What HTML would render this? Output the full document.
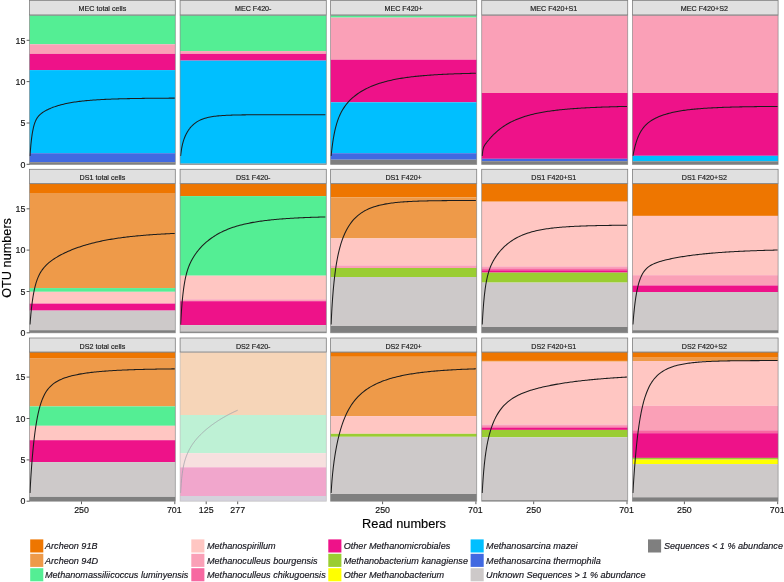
<!DOCTYPE html>
<html><head><meta charset="utf-8"><title>OTU rarefaction</title>
<style>html,body{margin:0;padding:0;background:#fff}svg{display:block}</style></head>
<body>
<svg width="784" height="582" viewBox="0 0 784 582" font-family="'Liberation Sans', sans-serif">
<style>text{stroke:#222;stroke-width:0.18px;paint-order:stroke fill}</style>
<rect width="784" height="582" fill="#fff"/>
<g>
<rect x="29.5" y="15.3" width="145.8" height="29.0" fill="#54EE94"/>
<rect x="29.5" y="44.3" width="145.8" height="9.6" fill="#FAA0B7"/>
<rect x="29.5" y="53.9" width="145.8" height="16.2" fill="#EE1289"/>
<rect x="29.5" y="70.1" width="145.8" height="83.1" fill="#00BFFF"/>
<rect x="29.5" y="153.2" width="145.8" height="9.0" fill="#4169E1"/>
<rect x="29.5" y="162.2" width="145.8" height="2.2" fill="#7F7F7F"/>
<path d="M30.01,156.03 L30.21,152.99 L30.42,150.23 L30.63,147.71 L30.83,145.40 L31.04,143.28 L31.25,141.32 L31.45,139.52 L31.66,137.84 L31.87,136.29 L32.07,134.86 L32.28,133.52 L32.49,132.28 L32.70,131.12 L32.90,130.04 L33.11,129.03 L33.32,128.09 L33.52,127.21 L33.73,126.38 L33.94,125.61 L34.14,124.89 L34.35,124.21 L34.56,123.57 L34.76,122.97 L34.97,122.40 L35.18,121.86 L35.38,121.36 L35.59,120.88 L35.80,120.43 L36.00,120.00 L36.21,119.59 L36.42,119.21 L36.62,118.84 L36.83,118.49 L37.04,118.15 L37.24,117.83 L37.45,117.53 L37.66,117.24 L37.87,116.96 L38.07,116.69 L38.28,116.43 L38.49,116.18 L38.69,115.94 L38.90,115.71 L39.11,115.48 L39.31,115.27 L39.52,115.06 L39.73,114.85 L39.93,114.66 L40.14,114.47 L40.35,114.28 L40.55,114.10 L40.76,113.92 L40.97,113.75 L41.17,113.58 L41.38,113.42 L41.59,113.26 L41.79,113.10 L42.00,112.95 L42.21,112.80 L43.55,111.89 L44.89,111.08 L46.22,110.34 L47.56,109.66 L48.90,109.02 L50.24,108.43 L51.58,107.88 L52.92,107.36 L54.26,106.87 L55.60,106.41 L56.94,105.97 L58.28,105.56 L59.61,105.18 L60.95,104.81 L62.29,104.47 L63.63,104.14 L64.97,103.83 L66.31,103.54 L67.65,103.27 L68.99,103.01 L70.33,102.76 L71.67,102.53 L73.00,102.31 L74.34,102.10 L75.68,101.90 L77.02,101.71 L78.36,101.53 L79.70,101.36 L81.04,101.20 L82.38,101.05 L83.72,100.91 L85.06,100.77 L86.39,100.64 L87.73,100.52 L89.07,100.40 L90.41,100.29 L91.75,100.18 L93.09,100.08 L94.43,99.99 L95.77,99.90 L97.11,99.81 L98.45,99.73 L99.78,99.65 L101.12,99.58 L102.46,99.51 L103.80,99.44 L105.14,99.37 L106.48,99.31 L107.82,99.25 L109.16,99.20 L110.50,99.15 L111.83,99.09 L113.17,99.05 L114.51,99.00 L115.85,98.96 L117.19,98.91 L118.53,98.87 L119.87,98.84 L121.21,98.80 L122.55,98.76 L123.89,98.73 L125.22,98.70 L126.56,98.67 L127.90,98.64 L129.24,98.61 L130.58,98.58 L131.92,98.56 L133.26,98.53 L134.60,98.51 L135.94,98.49 L137.28,98.47 L138.61,98.44 L139.95,98.42 L141.29,98.41 L142.63,98.39 L143.97,98.37 L145.31,98.35 L146.65,98.34 L147.99,98.32 L149.33,98.31 L150.67,98.29 L152.00,98.28 L153.34,98.26 L154.68,98.25 L156.02,98.24 L157.36,98.23 L158.70,98.22 L160.04,98.21 L161.38,98.19 L162.72,98.18 L164.05,98.18 L165.39,98.17 L166.73,98.16 L168.07,98.15 L169.41,98.14 L170.75,98.13 L172.09,98.12 L173.43,98.12 L174.77,98.11" fill="none" stroke="#1c1c1c" stroke-width="1.05" stroke-linejoin="round"/>
<rect x="29.5" y="15.3" width="145.8" height="149.1" fill="none" stroke="#7f7f7f" stroke-opacity="0.75" stroke-width="0.8"/>
<rect x="29.5" y="0.5" width="145.8" height="14.4" fill="#E0E0E0" stroke="#7f7f7f" stroke-width="0.8"/>
<text transform="translate(102.4,11.1) scale(0.93,1)" font-size="7.7" text-anchor="middle" fill="#1a1a1a">MEC total cells</text>
</g>
<g>
<rect x="180.1" y="15.3" width="146.2" height="35.8" fill="#54EE94"/>
<rect x="180.1" y="51.1" width="146.2" height="2.8" fill="#FAA0B7"/>
<rect x="180.1" y="53.9" width="146.2" height="6.7" fill="#EE1289"/>
<rect x="180.1" y="60.6" width="146.2" height="103.0" fill="#00BFFF"/>
<rect x="180.1" y="163.6" width="146.2" height="0.8" fill="#7F7F7F"/>
<path d="M180.61,156.03 L180.81,154.22 L181.02,152.59 L181.23,151.11 L181.43,149.76 L181.64,148.53 L181.85,147.39 L182.05,146.34 L182.26,145.37 L182.47,144.46 L182.67,143.61 L182.88,142.81 L183.09,142.06 L183.30,141.35 L183.50,140.68 L183.71,140.04 L183.92,139.43 L184.12,138.84 L184.33,138.28 L184.54,137.74 L184.74,137.23 L184.95,136.73 L185.16,136.25 L185.36,135.78 L185.57,135.33 L185.78,134.90 L185.98,134.47 L186.19,134.06 L186.40,133.66 L186.60,133.27 L186.81,132.90 L187.02,132.53 L187.22,132.17 L187.43,131.82 L187.64,131.48 L187.84,131.15 L188.05,130.82 L188.26,130.51 L188.47,130.20 L188.67,129.89 L188.88,129.60 L189.09,129.31 L189.29,129.03 L189.50,128.75 L189.71,128.48 L189.91,128.21 L190.12,127.96 L190.33,127.70 L190.53,127.45 L190.74,127.21 L190.95,126.97 L191.15,126.74 L191.36,126.51 L191.57,126.29 L191.77,126.07 L191.98,125.86 L192.19,125.65 L192.39,125.44 L192.60,125.24 L192.81,125.04 L194.15,123.86 L195.49,122.82 L196.82,121.91 L198.16,121.10 L199.50,120.39 L200.84,119.76 L202.18,119.20 L203.52,118.71 L204.86,118.28 L206.20,117.89 L207.54,117.55 L208.88,117.25 L210.21,116.98 L211.55,116.74 L212.89,116.53 L214.23,116.34 L215.57,116.17 L216.91,116.02 L218.25,115.89 L219.59,115.77 L220.93,115.66 L222.27,115.57 L223.60,115.48 L224.94,115.40 L226.28,115.34 L227.62,115.27 L228.96,115.22 L230.30,115.17 L231.64,115.12 L232.98,115.08 L234.32,115.05 L235.66,115.01 L236.99,114.99 L238.33,114.96 L239.67,114.93 L241.01,114.91 L242.35,114.89 L243.69,114.87 L245.03,114.86 L246.37,114.84 L247.71,114.83 L249.05,114.82 L250.38,114.81 L251.72,114.79 L253.06,114.79 L254.40,114.78 L255.74,114.77 L257.08,114.76 L258.42,114.75 L259.76,114.75 L261.10,114.74 L262.43,114.74 L263.77,114.73 L265.11,114.73 L266.45,114.72 L267.79,114.72 L269.13,114.72 L270.47,114.71 L271.81,114.71 L273.15,114.71 L274.49,114.70 L275.82,114.70 L277.16,114.70 L278.50,114.70 L279.84,114.70 L281.18,114.69 L282.52,114.69 L283.86,114.69 L285.20,114.69 L286.54,114.69 L287.88,114.69 L289.21,114.69 L290.55,114.69 L291.89,114.68 L293.23,114.68 L294.57,114.68 L295.91,114.68 L297.25,114.68 L298.59,114.68 L299.93,114.68 L301.27,114.68 L302.60,114.68 L303.94,114.68 L305.28,114.68 L306.62,114.68 L307.96,114.68 L309.30,114.68 L310.64,114.68 L311.98,114.68 L313.32,114.67 L314.65,114.67 L315.99,114.67 L317.33,114.67 L318.67,114.67 L320.01,114.67 L321.35,114.67 L322.69,114.67 L324.03,114.67 L325.37,114.67" fill="none" stroke="#1c1c1c" stroke-width="1.05" stroke-linejoin="round"/>
<rect x="180.1" y="15.3" width="146.2" height="149.1" fill="none" stroke="#7f7f7f" stroke-opacity="0.75" stroke-width="0.8"/>
<rect x="180.1" y="0.5" width="146.2" height="14.4" fill="#E0E0E0" stroke="#7f7f7f" stroke-width="0.8"/>
<text transform="translate(253.2,11.1) scale(0.93,1)" font-size="7.7" text-anchor="middle" fill="#1a1a1a">MEC F420-</text>
</g>
<g>
<rect x="330.6" y="15.3" width="146.1" height="2.3" fill="#54EE94"/>
<rect x="330.6" y="17.6" width="146.1" height="42.1" fill="#FAA0B7"/>
<rect x="330.6" y="59.7" width="146.1" height="42.6" fill="#EE1289"/>
<rect x="330.6" y="102.3" width="146.1" height="50.9" fill="#00BFFF"/>
<rect x="330.6" y="153.2" width="146.1" height="6.5" fill="#4169E1"/>
<rect x="330.6" y="159.7" width="146.1" height="4.7" fill="#7F7F7F"/>
<path d="M331.11,156.03 L331.31,154.03 L331.52,152.12 L331.73,150.30 L331.93,148.57 L332.14,146.92 L332.35,145.34 L332.55,143.84 L332.76,142.40 L332.97,141.02 L333.17,139.71 L333.38,138.44 L333.59,137.23 L333.80,136.07 L334.00,134.95 L334.21,133.88 L334.42,132.85 L334.62,131.86 L334.83,130.90 L335.04,129.98 L335.24,129.09 L335.45,128.23 L335.66,127.40 L335.86,126.60 L336.07,125.83 L336.28,125.08 L336.48,124.36 L336.69,123.65 L336.90,122.97 L337.10,122.31 L337.31,121.67 L337.52,121.05 L337.72,120.44 L337.93,119.85 L338.14,119.28 L338.34,118.72 L338.55,118.18 L338.76,117.65 L338.97,117.14 L339.17,116.63 L339.38,116.14 L339.59,115.67 L339.79,115.20 L340.00,114.74 L340.21,114.30 L340.41,113.86 L340.62,113.43 L340.83,113.02 L341.03,112.61 L341.24,112.21 L341.45,111.82 L341.65,111.43 L341.86,111.06 L342.07,110.69 L342.27,110.33 L342.48,109.97 L342.69,109.62 L342.89,109.28 L343.10,108.94 L343.31,108.61 L344.65,106.61 L345.99,104.79 L347.32,103.14 L348.66,101.63 L350.00,100.23 L351.34,98.93 L352.68,97.72 L354.02,96.58 L355.36,95.51 L356.70,94.51 L358.04,93.55 L359.38,92.65 L360.71,91.80 L362.05,90.99 L363.39,90.22 L364.73,89.49 L366.07,88.79 L367.41,88.13 L368.75,87.49 L370.09,86.89 L371.43,86.31 L372.77,85.76 L374.10,85.23 L375.44,84.73 L376.78,84.25 L378.12,83.79 L379.46,83.35 L380.80,82.93 L382.14,82.53 L383.48,82.14 L384.82,81.77 L386.16,81.41 L387.49,81.08 L388.83,80.75 L390.17,80.44 L391.51,80.14 L392.85,79.85 L394.19,79.58 L395.53,79.31 L396.87,79.06 L398.21,78.81 L399.55,78.58 L400.88,78.36 L402.22,78.14 L403.56,77.93 L404.90,77.73 L406.24,77.54 L407.58,77.36 L408.92,77.18 L410.26,77.01 L411.60,76.85 L412.93,76.69 L414.27,76.54 L415.61,76.39 L416.95,76.25 L418.29,76.12 L419.63,75.99 L420.97,75.86 L422.31,75.74 L423.65,75.63 L424.99,75.51 L426.32,75.41 L427.66,75.30 L429.00,75.20 L430.34,75.11 L431.68,75.01 L433.02,74.92 L434.36,74.84 L435.70,74.75 L437.04,74.67 L438.38,74.60 L439.71,74.52 L441.05,74.45 L442.39,74.38 L443.73,74.31 L445.07,74.25 L446.41,74.19 L447.75,74.12 L449.09,74.07 L450.43,74.01 L451.77,73.96 L453.10,73.90 L454.44,73.85 L455.78,73.80 L457.12,73.76 L458.46,73.71 L459.80,73.67 L461.14,73.63 L462.48,73.58 L463.82,73.54 L465.15,73.51 L466.49,73.47 L467.83,73.43 L469.17,73.40 L470.51,73.37 L471.85,73.33 L473.19,73.30 L474.53,73.27 L475.87,73.24" fill="none" stroke="#1c1c1c" stroke-width="1.05" stroke-linejoin="round"/>
<rect x="330.6" y="15.3" width="146.1" height="149.1" fill="none" stroke="#7f7f7f" stroke-opacity="0.75" stroke-width="0.8"/>
<rect x="330.6" y="0.5" width="146.1" height="14.4" fill="#E0E0E0" stroke="#7f7f7f" stroke-width="0.8"/>
<text transform="translate(403.6,11.1) scale(0.93,1)" font-size="7.7" text-anchor="middle" fill="#1a1a1a">MEC F420+</text>
</g>
<g>
<rect x="481.7" y="15.3" width="146.0" height="77.7" fill="#FAA0B7"/>
<rect x="481.7" y="93.0" width="146.0" height="65.8" fill="#EE1289"/>
<rect x="481.7" y="158.8" width="146.0" height="2.4" fill="#4169E1"/>
<rect x="481.7" y="161.2" width="146.0" height="3.2" fill="#7F7F7F"/>
<path d="M482.21,156.03 L482.41,153.64 L482.62,151.84 L482.83,150.46 L483.03,149.39 L483.24,148.53 L483.45,147.84 L483.65,147.25 L483.86,146.75 L484.07,146.31 L484.27,145.91 L484.48,145.54 L484.69,145.20 L484.90,144.87 L485.10,144.56 L485.31,144.26 L485.52,143.96 L485.72,143.67 L485.93,143.39 L486.14,143.11 L486.34,142.83 L486.55,142.56 L486.76,142.29 L486.96,142.02 L487.17,141.76 L487.38,141.49 L487.58,141.24 L487.79,140.98 L488.00,140.72 L488.20,140.47 L488.41,140.22 L488.62,139.97 L488.82,139.72 L489.03,139.48 L489.24,139.24 L489.44,139.00 L489.65,138.76 L489.86,138.52 L490.07,138.28 L490.27,138.05 L490.48,137.82 L490.69,137.59 L490.89,137.36 L491.10,137.14 L491.31,136.92 L491.51,136.69 L491.72,136.47 L491.93,136.26 L492.13,136.04 L492.34,135.82 L492.55,135.61 L492.75,135.40 L492.96,135.19 L493.17,134.98 L493.37,134.78 L493.58,134.57 L493.79,134.37 L493.99,134.17 L494.20,133.97 L494.41,133.77 L495.75,132.53 L497.09,131.34 L498.42,130.22 L499.76,129.16 L501.10,128.14 L502.44,127.18 L503.78,126.26 L505.12,125.39 L506.46,124.57 L507.80,123.78 L509.14,123.03 L510.48,122.31 L511.81,121.63 L513.15,120.98 L514.49,120.36 L515.83,119.78 L517.17,119.21 L518.51,118.68 L519.85,118.17 L521.19,117.68 L522.53,117.21 L523.87,116.77 L525.20,116.34 L526.54,115.93 L527.88,115.54 L529.22,115.17 L530.56,114.82 L531.90,114.48 L533.24,114.15 L534.58,113.84 L535.92,113.54 L537.26,113.25 L538.59,112.98 L539.93,112.72 L541.27,112.47 L542.61,112.22 L543.95,111.99 L545.29,111.77 L546.63,111.55 L547.97,111.35 L549.31,111.15 L550.65,110.96 L551.98,110.78 L553.32,110.61 L554.66,110.44 L556.00,110.27 L557.34,110.12 L558.68,109.97 L560.02,109.82 L561.36,109.68 L562.70,109.55 L564.03,109.42 L565.37,109.30 L566.71,109.18 L568.05,109.06 L569.39,108.95 L570.73,108.84 L572.07,108.74 L573.41,108.64 L574.75,108.54 L576.09,108.45 L577.42,108.36 L578.76,108.27 L580.10,108.18 L581.44,108.10 L582.78,108.02 L584.12,107.95 L585.46,107.87 L586.80,107.80 L588.14,107.73 L589.48,107.66 L590.81,107.60 L592.15,107.54 L593.49,107.47 L594.83,107.41 L596.17,107.36 L597.51,107.30 L598.85,107.25 L600.19,107.20 L601.53,107.14 L602.87,107.10 L604.20,107.05 L605.54,107.00 L606.88,106.96 L608.22,106.91 L609.56,106.87 L610.90,106.83 L612.24,106.79 L613.58,106.75 L614.92,106.71 L616.25,106.67 L617.59,106.64 L618.93,106.60 L620.27,106.57 L621.61,106.54 L622.95,106.50 L624.29,106.47 L625.63,106.44 L626.97,106.41" fill="none" stroke="#1c1c1c" stroke-width="1.05" stroke-linejoin="round"/>
<rect x="481.7" y="15.3" width="146.0" height="149.1" fill="none" stroke="#7f7f7f" stroke-opacity="0.75" stroke-width="0.8"/>
<rect x="481.7" y="0.5" width="146.0" height="14.4" fill="#E0E0E0" stroke="#7f7f7f" stroke-width="0.8"/>
<text transform="translate(553.8,11.1) scale(0.93,1)" font-size="7.7" text-anchor="middle" fill="#1a1a1a">MEC F420+S1</text>
</g>
<g>
<rect x="632.4" y="15.3" width="145.7" height="77.7" fill="#FAA0B7"/>
<rect x="632.4" y="93.0" width="145.7" height="62.8" fill="#EE1289"/>
<rect x="632.4" y="155.8" width="145.7" height="5.5" fill="#00BFFF"/>
<rect x="632.4" y="161.3" width="145.7" height="3.1" fill="#7F7F7F"/>
<path d="M632.91,156.03 L633.11,154.92 L633.32,153.85 L633.53,152.82 L633.73,151.82 L633.94,150.86 L634.15,149.94 L634.35,149.04 L634.56,148.17 L634.77,147.34 L634.97,146.53 L635.18,145.74 L635.39,144.99 L635.60,144.25 L635.80,143.54 L636.01,142.86 L636.22,142.19 L636.42,141.54 L636.63,140.92 L636.84,140.31 L637.04,139.72 L637.25,139.15 L637.46,138.60 L637.66,138.06 L637.87,137.54 L638.08,137.03 L638.28,136.54 L638.49,136.06 L638.70,135.59 L638.90,135.14 L639.11,134.70 L639.32,134.27 L639.52,133.85 L639.73,133.44 L639.94,133.05 L640.14,132.66 L640.35,132.29 L640.56,131.92 L640.77,131.56 L640.97,131.22 L641.18,130.88 L641.39,130.54 L641.59,130.22 L641.80,129.90 L642.01,129.60 L642.21,129.29 L642.42,129.00 L642.63,128.71 L642.83,128.43 L643.04,128.15 L643.25,127.89 L643.45,127.62 L643.66,127.36 L643.87,127.11 L644.07,126.87 L644.28,126.62 L644.49,126.39 L644.69,126.15 L644.90,125.93 L645.11,125.70 L646.45,124.36 L647.79,123.17 L649.12,122.10 L650.46,121.13 L651.80,120.25 L653.14,119.45 L654.48,118.72 L655.82,118.03 L657.16,117.40 L658.50,116.82 L659.84,116.27 L661.18,115.75 L662.51,115.27 L663.85,114.82 L665.19,114.40 L666.53,114.00 L667.87,113.62 L669.21,113.26 L670.55,112.93 L671.89,112.61 L673.23,112.30 L674.57,112.02 L675.90,111.75 L677.24,111.49 L678.58,111.25 L679.92,111.02 L681.26,110.80 L682.60,110.59 L683.94,110.39 L685.28,110.20 L686.62,110.02 L687.96,109.85 L689.29,109.69 L690.63,109.54 L691.97,109.39 L693.31,109.25 L694.65,109.12 L695.99,108.99 L697.33,108.87 L698.67,108.76 L700.01,108.65 L701.35,108.55 L702.68,108.45 L704.02,108.35 L705.36,108.26 L706.70,108.17 L708.04,108.09 L709.38,108.01 L710.72,107.94 L712.06,107.86 L713.40,107.80 L714.73,107.73 L716.07,107.67 L717.41,107.61 L718.75,107.55 L720.09,107.49 L721.43,107.44 L722.77,107.39 L724.11,107.34 L725.45,107.29 L726.79,107.25 L728.12,107.21 L729.46,107.17 L730.80,107.13 L732.14,107.09 L733.48,107.05 L734.82,107.02 L736.16,106.99 L737.50,106.95 L738.84,106.92 L740.18,106.89 L741.51,106.86 L742.85,106.84 L744.19,106.81 L745.53,106.79 L746.87,106.76 L748.21,106.74 L749.55,106.72 L750.89,106.70 L752.23,106.67 L753.57,106.66 L754.90,106.64 L756.24,106.62 L757.58,106.60 L758.92,106.58 L760.26,106.57 L761.60,106.55 L762.94,106.54 L764.28,106.52 L765.62,106.51 L766.95,106.49 L768.29,106.48 L769.63,106.47 L770.97,106.46 L772.31,106.44 L773.65,106.43 L774.99,106.42 L776.33,106.41 L777.67,106.40" fill="none" stroke="#1c1c1c" stroke-width="1.05" stroke-linejoin="round"/>
<rect x="632.4" y="15.3" width="145.7" height="149.1" fill="none" stroke="#7f7f7f" stroke-opacity="0.75" stroke-width="0.8"/>
<rect x="632.4" y="0.5" width="145.7" height="14.4" fill="#E0E0E0" stroke="#7f7f7f" stroke-width="0.8"/>
<text transform="translate(704.4,11.1) scale(0.93,1)" font-size="7.7" text-anchor="middle" fill="#1a1a1a">MEC F420+S2</text>
</g>
<g>
<rect x="29.5" y="183.7" width="145.8" height="9.3" fill="#EE7600"/>
<rect x="29.5" y="193.0" width="145.8" height="95.1" fill="#EE9A49"/>
<rect x="29.5" y="288.1" width="145.8" height="3.7" fill="#54EE94"/>
<rect x="29.5" y="291.8" width="145.8" height="11.8" fill="#FFC6C2"/>
<rect x="29.5" y="303.6" width="145.8" height="7.0" fill="#EE1289"/>
<rect x="29.5" y="310.6" width="145.8" height="19.6" fill="#CDC9C9"/>
<rect x="29.5" y="330.2" width="145.8" height="2.6" fill="#7F7F7F"/>
<path d="M30.01,324.53 L30.21,321.84 L30.42,319.31 L30.63,316.91 L30.83,314.64 L31.04,312.50 L31.25,310.47 L31.45,308.54 L31.66,306.72 L31.87,304.98 L32.07,303.34 L32.28,301.78 L32.49,300.29 L32.70,298.87 L32.90,297.53 L33.11,296.24 L33.32,295.02 L33.52,293.85 L33.73,292.73 L33.94,291.66 L34.14,290.64 L34.35,289.66 L34.56,288.73 L34.76,287.83 L34.97,286.97 L35.18,286.15 L35.38,285.35 L35.59,284.59 L35.80,283.86 L36.00,283.15 L36.21,282.47 L36.42,281.82 L36.62,281.19 L36.83,280.58 L37.04,279.99 L37.24,279.42 L37.45,278.88 L37.66,278.34 L37.87,277.83 L38.07,277.33 L38.28,276.85 L38.49,276.38 L38.69,275.93 L38.90,275.49 L39.11,275.06 L39.31,274.65 L39.52,274.24 L39.73,273.85 L39.93,273.47 L40.14,273.10 L40.35,272.73 L40.55,272.38 L40.76,272.04 L40.97,271.70 L41.17,271.37 L41.38,271.05 L41.59,270.74 L41.79,270.43 L42.00,270.13 L42.21,269.84 L43.55,268.09 L44.89,266.53 L46.22,265.14 L47.56,263.87 L48.90,262.71 L50.24,261.63 L51.58,260.62 L52.92,259.67 L54.26,258.76 L55.60,257.91 L56.94,257.09 L58.28,256.30 L59.61,255.55 L60.95,254.83 L62.29,254.13 L63.63,253.46 L64.97,252.81 L66.31,252.18 L67.65,251.57 L68.99,250.98 L70.33,250.41 L71.67,249.86 L73.00,249.32 L74.34,248.80 L75.68,248.30 L77.02,247.81 L78.36,247.33 L79.70,246.88 L81.04,246.43 L82.38,246.00 L83.72,245.58 L85.06,245.17 L86.39,244.78 L87.73,244.39 L89.07,244.02 L90.41,243.66 L91.75,243.31 L93.09,242.97 L94.43,242.64 L95.77,242.32 L97.11,242.01 L98.45,241.71 L99.78,241.41 L101.12,241.13 L102.46,240.85 L103.80,240.59 L105.14,240.32 L106.48,240.07 L107.82,239.83 L109.16,239.59 L110.50,239.36 L111.83,239.13 L113.17,238.91 L114.51,238.70 L115.85,238.50 L117.19,238.30 L118.53,238.10 L119.87,237.91 L121.21,237.73 L122.55,237.55 L123.89,237.38 L125.22,237.21 L126.56,237.05 L127.90,236.89 L129.24,236.73 L130.58,236.58 L131.92,236.44 L133.26,236.30 L134.60,236.16 L135.94,236.02 L137.28,235.89 L138.61,235.77 L139.95,235.65 L141.29,235.53 L142.63,235.41 L143.97,235.30 L145.31,235.19 L146.65,235.08 L147.99,234.98 L149.33,234.88 L150.67,234.78 L152.00,234.68 L153.34,234.59 L154.68,234.50 L156.02,234.41 L157.36,234.33 L158.70,234.24 L160.04,234.16 L161.38,234.08 L162.72,234.01 L164.05,233.93 L165.39,233.86 L166.73,233.79 L168.07,233.72 L169.41,233.66 L170.75,233.59 L172.09,233.53 L173.43,233.47 L174.77,233.41" fill="none" stroke="#1c1c1c" stroke-width="1.05" stroke-linejoin="round"/>
<rect x="29.5" y="183.7" width="145.8" height="149.1" fill="none" stroke="#7f7f7f" stroke-opacity="0.75" stroke-width="0.8"/>
<rect x="29.5" y="169.3" width="145.8" height="14.2" fill="#E0E0E0" stroke="#7f7f7f" stroke-width="0.8"/>
<text transform="translate(102.4,179.9) scale(0.93,1)" font-size="7.7" text-anchor="middle" fill="#1a1a1a">DS1 total cells</text>
</g>
<g>
<rect x="180.1" y="183.7" width="146.2" height="12.4" fill="#EE7600"/>
<rect x="180.1" y="196.1" width="146.2" height="79.6" fill="#54EE94"/>
<rect x="180.1" y="275.7" width="146.2" height="23.6" fill="#FFC6C2"/>
<rect x="180.1" y="299.3" width="146.2" height="1.9" fill="#FAA0B7"/>
<rect x="180.1" y="301.2" width="146.2" height="23.9" fill="#EE1289"/>
<rect x="180.1" y="325.1" width="146.2" height="6.4" fill="#CDC9C9"/>
<rect x="180.1" y="331.5" width="146.2" height="1.3" fill="#7F7F7F"/>
<path d="M180.61,324.53 L180.81,320.85 L181.02,317.41 L181.23,314.19 L181.43,311.19 L181.64,308.37 L181.85,305.74 L182.05,303.27 L182.26,300.95 L182.47,298.77 L182.67,296.73 L182.88,294.80 L183.09,292.99 L183.30,291.28 L183.50,289.66 L183.71,288.14 L183.92,286.69 L184.12,285.33 L184.33,284.03 L184.54,282.80 L184.74,281.63 L184.95,280.52 L185.16,279.46 L185.36,278.45 L185.57,277.48 L185.78,276.56 L185.98,275.68 L186.19,274.83 L186.40,274.02 L186.60,273.24 L186.81,272.50 L187.02,271.77 L187.22,271.08 L187.43,270.41 L187.64,269.76 L187.84,269.14 L188.05,268.53 L188.26,267.95 L188.47,267.38 L188.67,266.83 L188.88,266.29 L189.09,265.77 L189.29,265.26 L189.50,264.77 L189.71,264.28 L189.91,263.81 L190.12,263.36 L190.33,262.91 L190.53,262.47 L190.74,262.04 L190.95,261.62 L191.15,261.21 L191.36,260.81 L191.57,260.41 L191.77,260.02 L191.98,259.64 L192.19,259.27 L192.39,258.90 L192.60,258.54 L192.81,258.18 L194.15,256.01 L195.49,254.02 L196.82,252.19 L198.16,250.48 L199.50,248.89 L200.84,247.39 L202.18,245.98 L203.52,244.65 L204.86,243.39 L206.20,242.20 L207.54,241.06 L208.88,239.99 L210.21,238.97 L211.55,238.00 L212.89,237.07 L214.23,236.19 L215.57,235.35 L216.91,234.55 L218.25,233.79 L219.59,233.07 L220.93,232.37 L222.27,231.71 L223.60,231.08 L224.94,230.47 L226.28,229.90 L227.62,229.35 L228.96,228.82 L230.30,228.32 L231.64,227.83 L232.98,227.37 L234.32,226.93 L235.66,226.51 L236.99,226.11 L238.33,225.72 L239.67,225.35 L241.01,224.99 L242.35,224.65 L243.69,224.33 L245.03,224.01 L246.37,223.71 L247.71,223.43 L249.05,223.15 L250.38,222.88 L251.72,222.63 L253.06,222.39 L254.40,222.15 L255.74,221.93 L257.08,221.71 L258.42,221.50 L259.76,221.30 L261.10,221.11 L262.43,220.93 L263.77,220.75 L265.11,220.58 L266.45,220.42 L267.79,220.26 L269.13,220.11 L270.47,219.96 L271.81,219.82 L273.15,219.68 L274.49,219.55 L275.82,219.43 L277.16,219.31 L278.50,219.19 L279.84,219.08 L281.18,218.97 L282.52,218.87 L283.86,218.77 L285.20,218.67 L286.54,218.58 L287.88,218.49 L289.21,218.40 L290.55,218.32 L291.89,218.24 L293.23,218.16 L294.57,218.09 L295.91,218.01 L297.25,217.94 L298.59,217.88 L299.93,217.81 L301.27,217.75 L302.60,217.69 L303.94,217.63 L305.28,217.58 L306.62,217.52 L307.96,217.47 L309.30,217.42 L310.64,217.37 L311.98,217.32 L313.32,217.28 L314.65,217.23 L315.99,217.19 L317.33,217.15 L318.67,217.11 L320.01,217.07 L321.35,217.03 L322.69,217.00 L324.03,216.96 L325.37,216.93" fill="none" stroke="#1c1c1c" stroke-width="1.05" stroke-linejoin="round"/>
<rect x="180.1" y="183.7" width="146.2" height="149.1" fill="none" stroke="#7f7f7f" stroke-opacity="0.75" stroke-width="0.8"/>
<rect x="180.1" y="169.3" width="146.2" height="14.2" fill="#E0E0E0" stroke="#7f7f7f" stroke-width="0.8"/>
<text transform="translate(253.2,179.9) scale(0.93,1)" font-size="7.7" text-anchor="middle" fill="#1a1a1a">DS1 F420-</text>
</g>
<g>
<rect x="330.6" y="183.7" width="146.1" height="13.8" fill="#EE7600"/>
<rect x="330.6" y="197.5" width="146.1" height="40.9" fill="#EE9A49"/>
<rect x="330.6" y="238.4" width="146.1" height="27.0" fill="#FFC6C2"/>
<rect x="330.6" y="265.4" width="146.1" height="2.6" fill="#FAA0B7"/>
<rect x="330.6" y="268.0" width="146.1" height="9.0" fill="#9ACD32"/>
<rect x="330.6" y="277.0" width="146.1" height="49.0" fill="#CDC9C9"/>
<rect x="330.6" y="326.0" width="146.1" height="6.8" fill="#7F7F7F"/>
<path d="M331.11,324.53 L331.31,319.88 L331.52,315.65 L331.73,311.78 L331.93,308.21 L332.14,304.88 L332.35,301.77 L332.55,298.85 L332.76,296.09 L332.97,293.49 L333.17,291.02 L333.38,288.67 L333.59,286.43 L333.80,284.30 L334.00,282.26 L334.21,280.32 L334.42,278.46 L334.62,276.67 L334.83,274.96 L335.04,273.31 L335.24,271.74 L335.45,270.22 L335.66,268.75 L335.86,267.35 L336.07,265.99 L336.28,264.68 L336.48,263.41 L336.69,262.19 L336.90,261.01 L337.10,259.87 L337.31,258.76 L337.52,257.69 L337.72,256.65 L337.93,255.65 L338.14,254.67 L338.34,253.72 L338.55,252.80 L338.76,251.90 L338.97,251.03 L339.17,250.18 L339.38,249.36 L339.59,248.56 L339.79,247.78 L340.00,247.01 L340.21,246.27 L340.41,245.54 L340.62,244.84 L340.83,244.15 L341.03,243.47 L341.24,242.81 L341.45,242.17 L341.65,241.54 L341.86,240.93 L342.07,240.33 L342.27,239.74 L342.48,239.16 L342.69,238.60 L342.89,238.05 L343.10,237.51 L343.31,236.98 L344.65,233.79 L345.99,230.98 L347.32,228.47 L348.66,226.22 L350.00,224.20 L351.34,222.36 L352.68,220.70 L354.02,219.19 L355.36,217.81 L356.70,216.54 L358.04,215.38 L359.38,214.32 L360.71,213.34 L362.05,212.43 L363.39,211.60 L364.73,210.83 L366.07,210.11 L367.41,209.45 L368.75,208.84 L370.09,208.27 L371.43,207.74 L372.77,207.26 L374.10,206.80 L375.44,206.38 L376.78,205.98 L378.12,205.62 L379.46,205.28 L380.80,204.96 L382.14,204.66 L383.48,204.39 L384.82,204.13 L386.16,203.89 L387.49,203.66 L388.83,203.45 L390.17,203.26 L391.51,203.08 L392.85,202.91 L394.19,202.75 L395.53,202.60 L396.87,202.46 L398.21,202.33 L399.55,202.21 L400.88,202.09 L402.22,201.99 L403.56,201.89 L404.90,201.79 L406.24,201.71 L407.58,201.63 L408.92,201.55 L410.26,201.48 L411.60,201.41 L412.93,201.35 L414.27,201.29 L415.61,201.24 L416.95,201.18 L418.29,201.14 L419.63,201.09 L420.97,201.05 L422.31,201.01 L423.65,200.97 L424.99,200.94 L426.32,200.91 L427.66,200.87 L429.00,200.85 L430.34,200.82 L431.68,200.79 L433.02,200.77 L434.36,200.75 L435.70,200.73 L437.04,200.71 L438.38,200.69 L439.71,200.67 L441.05,200.66 L442.39,200.64 L443.73,200.63 L445.07,200.62 L446.41,200.61 L447.75,200.59 L449.09,200.58 L450.43,200.57 L451.77,200.56 L453.10,200.55 L454.44,200.55 L455.78,200.54 L457.12,200.53 L458.46,200.52 L459.80,200.52 L461.14,200.51 L462.48,200.51 L463.82,200.50 L465.15,200.50 L466.49,200.49 L467.83,200.49 L469.17,200.48 L470.51,200.48 L471.85,200.48 L473.19,200.47 L474.53,200.47 L475.87,200.47" fill="none" stroke="#1c1c1c" stroke-width="1.05" stroke-linejoin="round"/>
<rect x="330.6" y="183.7" width="146.1" height="149.1" fill="none" stroke="#7f7f7f" stroke-opacity="0.75" stroke-width="0.8"/>
<rect x="330.6" y="169.3" width="146.1" height="14.2" fill="#E0E0E0" stroke="#7f7f7f" stroke-width="0.8"/>
<text transform="translate(403.6,179.9) scale(0.93,1)" font-size="7.7" text-anchor="middle" fill="#1a1a1a">DS1 F420+</text>
</g>
<g>
<rect x="481.7" y="183.7" width="146.0" height="18.0" fill="#EE7600"/>
<rect x="481.7" y="201.7" width="146.0" height="64.7" fill="#FFC6C2"/>
<rect x="481.7" y="266.4" width="146.0" height="2.0" fill="#FAA0B7"/>
<rect x="481.7" y="268.4" width="146.0" height="1.9" fill="#F768A1"/>
<rect x="481.7" y="270.3" width="146.0" height="2.3" fill="#EE1289"/>
<rect x="481.7" y="272.6" width="146.0" height="10.0" fill="#9ACD32"/>
<rect x="481.7" y="282.6" width="146.0" height="44.4" fill="#CDC9C9"/>
<rect x="481.7" y="327.0" width="146.0" height="5.8" fill="#7F7F7F"/>
<path d="M482.21,324.53 L482.41,320.79 L482.62,317.31 L482.83,314.06 L483.03,311.03 L483.24,308.20 L483.45,305.56 L483.65,303.08 L483.86,300.76 L484.07,298.59 L484.27,296.55 L484.48,294.64 L484.69,292.84 L484.90,291.14 L485.10,289.55 L485.31,288.04 L485.52,286.62 L485.72,285.28 L485.93,284.01 L486.14,282.80 L486.34,281.66 L486.55,280.58 L486.76,279.54 L486.96,278.56 L487.17,277.62 L487.38,276.73 L487.58,275.87 L487.79,275.05 L488.00,274.26 L488.20,273.51 L488.41,272.79 L488.62,272.09 L488.82,271.42 L489.03,270.77 L489.24,270.15 L489.44,269.54 L489.65,268.96 L489.86,268.40 L490.07,267.85 L490.27,267.31 L490.48,266.80 L490.69,266.29 L490.89,265.81 L491.10,265.33 L491.31,264.86 L491.51,264.41 L491.72,263.97 L491.93,263.53 L492.13,263.11 L492.34,262.70 L492.55,262.29 L492.75,261.89 L492.96,261.50 L493.17,261.12 L493.37,260.75 L493.58,260.38 L493.79,260.01 L493.99,259.66 L494.20,259.31 L494.41,258.96 L495.75,256.86 L497.09,254.93 L498.42,253.16 L499.76,251.51 L501.10,249.98 L502.44,248.54 L503.78,247.20 L505.12,245.95 L506.46,244.77 L507.80,243.66 L509.14,242.62 L510.48,241.64 L511.81,240.71 L513.15,239.85 L514.49,239.03 L515.83,238.26 L517.17,237.54 L518.51,236.86 L519.85,236.21 L521.19,235.61 L522.53,235.04 L523.87,234.50 L525.20,233.99 L526.54,233.51 L527.88,233.06 L529.22,232.64 L530.56,232.24 L531.90,231.86 L533.24,231.50 L534.58,231.16 L535.92,230.84 L537.26,230.54 L538.59,230.25 L539.93,229.98 L541.27,229.73 L542.61,229.49 L543.95,229.26 L545.29,229.05 L546.63,228.84 L547.97,228.65 L549.31,228.47 L550.65,228.30 L551.98,228.13 L553.32,227.98 L554.66,227.83 L556.00,227.69 L557.34,227.56 L558.68,227.44 L560.02,227.32 L561.36,227.21 L562.70,227.10 L564.03,227.00 L565.37,226.90 L566.71,226.81 L568.05,226.73 L569.39,226.64 L570.73,226.57 L572.07,226.49 L573.41,226.42 L574.75,226.35 L576.09,226.29 L577.42,226.23 L578.76,226.17 L580.10,226.12 L581.44,226.07 L582.78,226.02 L584.12,225.97 L585.46,225.92 L586.80,225.88 L588.14,225.84 L589.48,225.80 L590.81,225.76 L592.15,225.73 L593.49,225.69 L594.83,225.66 L596.17,225.63 L597.51,225.60 L598.85,225.57 L600.19,225.55 L601.53,225.52 L602.87,225.50 L604.20,225.47 L605.54,225.45 L606.88,225.43 L608.22,225.41 L609.56,225.39 L610.90,225.37 L612.24,225.35 L613.58,225.34 L614.92,225.32 L616.25,225.30 L617.59,225.29 L618.93,225.27 L620.27,225.26 L621.61,225.25 L622.95,225.23 L624.29,225.22 L625.63,225.21 L626.97,225.20" fill="none" stroke="#1c1c1c" stroke-width="1.05" stroke-linejoin="round"/>
<rect x="481.7" y="183.7" width="146.0" height="149.1" fill="none" stroke="#7f7f7f" stroke-opacity="0.75" stroke-width="0.8"/>
<rect x="481.7" y="169.3" width="146.0" height="14.2" fill="#E0E0E0" stroke="#7f7f7f" stroke-width="0.8"/>
<text transform="translate(553.8,179.9) scale(0.93,1)" font-size="7.7" text-anchor="middle" fill="#1a1a1a">DS1 F420+S1</text>
</g>
<g>
<rect x="632.4" y="183.7" width="145.7" height="32.2" fill="#EE7600"/>
<rect x="632.4" y="215.9" width="145.7" height="59.3" fill="#FFC6C2"/>
<rect x="632.4" y="275.2" width="145.7" height="10.3" fill="#FAA0B7"/>
<rect x="632.4" y="285.5" width="145.7" height="6.5" fill="#EE1289"/>
<rect x="632.4" y="292.0" width="145.7" height="38.2" fill="#CDC9C9"/>
<rect x="632.4" y="330.2" width="145.7" height="2.6" fill="#7F7F7F"/>
<path d="M632.91,324.53 L633.11,321.89 L633.32,319.39 L633.53,317.01 L633.73,314.76 L633.94,312.61 L634.15,310.58 L634.35,308.64 L634.56,306.80 L634.77,305.04 L634.97,303.37 L635.18,301.78 L635.39,300.27 L635.60,298.82 L635.80,297.44 L636.01,296.12 L636.22,294.87 L636.42,293.67 L636.63,292.52 L636.84,291.42 L637.04,290.37 L637.25,289.37 L637.46,288.41 L637.66,287.49 L637.87,286.60 L638.08,285.76 L638.28,284.95 L638.49,284.17 L638.70,283.43 L638.90,282.71 L639.11,282.02 L639.32,281.36 L639.52,280.73 L639.73,280.12 L639.94,279.53 L640.14,278.97 L640.35,278.43 L640.56,277.90 L640.77,277.40 L640.97,276.92 L641.18,276.45 L641.39,276.00 L641.59,275.57 L641.80,275.15 L642.01,274.74 L642.21,274.35 L642.42,273.98 L642.63,273.61 L642.83,273.26 L643.04,272.92 L643.25,272.59 L643.45,272.27 L643.66,271.97 L643.87,271.67 L644.07,271.38 L644.28,271.10 L644.49,270.83 L644.69,270.57 L644.90,270.31 L645.11,270.07 L646.45,268.63 L647.79,267.44 L649.12,266.42 L650.46,265.55 L651.80,264.80 L653.14,264.12 L654.48,263.53 L655.82,262.98 L657.16,262.48 L658.50,262.03 L659.84,261.60 L661.18,261.20 L662.51,260.82 L663.85,260.46 L665.19,260.11 L666.53,259.78 L667.87,259.47 L669.21,259.16 L670.55,258.87 L671.89,258.59 L673.23,258.32 L674.57,258.05 L675.90,257.80 L677.24,257.55 L678.58,257.31 L679.92,257.08 L681.26,256.85 L682.60,256.64 L683.94,256.42 L685.28,256.22 L686.62,256.02 L687.96,255.82 L689.29,255.63 L690.63,255.45 L691.97,255.27 L693.31,255.10 L694.65,254.93 L695.99,254.77 L697.33,254.61 L698.67,254.46 L700.01,254.31 L701.35,254.16 L702.68,254.02 L704.02,253.88 L705.36,253.75 L706.70,253.62 L708.04,253.49 L709.38,253.37 L710.72,253.25 L712.06,253.13 L713.40,253.02 L714.73,252.91 L716.07,252.80 L717.41,252.70 L718.75,252.60 L720.09,252.50 L721.43,252.40 L722.77,252.31 L724.11,252.22 L725.45,252.13 L726.79,252.05 L728.12,251.96 L729.46,251.88 L730.80,251.80 L732.14,251.73 L733.48,251.65 L734.82,251.58 L736.16,251.51 L737.50,251.44 L738.84,251.37 L740.18,251.31 L741.51,251.25 L742.85,251.18 L744.19,251.12 L745.53,251.06 L746.87,251.01 L748.21,250.95 L749.55,250.90 L750.89,250.85 L752.23,250.79 L753.57,250.74 L754.90,250.70 L756.24,250.65 L757.58,250.60 L758.92,250.56 L760.26,250.51 L761.60,250.47 L762.94,250.43 L764.28,250.39 L765.62,250.35 L766.95,250.31 L768.29,250.27 L769.63,250.24 L770.97,250.20 L772.31,250.17 L773.65,250.13 L774.99,250.10 L776.33,250.07 L777.67,250.04" fill="none" stroke="#1c1c1c" stroke-width="1.05" stroke-linejoin="round"/>
<rect x="632.4" y="183.7" width="145.7" height="149.1" fill="none" stroke="#7f7f7f" stroke-opacity="0.75" stroke-width="0.8"/>
<rect x="632.4" y="169.3" width="145.7" height="14.2" fill="#E0E0E0" stroke="#7f7f7f" stroke-width="0.8"/>
<text transform="translate(704.4,179.9) scale(0.93,1)" font-size="7.7" text-anchor="middle" fill="#1a1a1a">DS1 F420+S2</text>
</g>
<g>
<rect x="29.5" y="352.1" width="145.8" height="6.0" fill="#EE7600"/>
<rect x="29.5" y="358.1" width="145.8" height="48.3" fill="#EE9A49"/>
<rect x="29.5" y="406.4" width="145.8" height="19.4" fill="#54EE94"/>
<rect x="29.5" y="425.8" width="145.8" height="14.4" fill="#FFC6C2"/>
<rect x="29.5" y="440.2" width="145.8" height="21.9" fill="#EE1289"/>
<rect x="29.5" y="462.1" width="145.8" height="34.8" fill="#CDC9C9"/>
<rect x="29.5" y="496.9" width="145.8" height="4.3" fill="#7F7F7F"/>
<path d="M30.01,492.93 L30.21,488.69 L30.42,484.78 L30.63,481.13 L30.83,477.70 L31.04,474.46 L31.25,471.37 L31.45,468.43 L31.66,465.61 L31.87,462.90 L32.07,460.31 L32.28,457.81 L32.49,455.40 L32.70,453.08 L32.90,450.84 L33.11,448.69 L33.32,446.60 L33.52,444.59 L33.73,442.65 L33.94,440.77 L34.14,438.96 L34.35,437.21 L34.56,435.52 L34.76,433.88 L34.97,432.30 L35.18,430.77 L35.38,429.29 L35.59,427.86 L35.80,426.48 L36.00,425.14 L36.21,423.84 L36.42,422.59 L36.62,421.37 L36.83,420.20 L37.04,419.06 L37.24,417.96 L37.45,416.89 L37.66,415.86 L37.87,414.86 L38.07,413.89 L38.28,412.95 L38.49,412.04 L38.69,411.15 L38.90,410.30 L39.11,409.47 L39.31,408.66 L39.52,407.88 L39.73,407.12 L39.93,406.39 L40.14,405.67 L40.35,404.98 L40.55,404.31 L40.76,403.65 L40.97,403.02 L41.17,402.40 L41.38,401.80 L41.59,401.22 L41.79,400.66 L42.00,400.10 L42.21,399.57 L43.55,396.44 L44.89,393.80 L46.22,391.56 L47.56,389.65 L48.90,387.99 L50.24,386.55 L51.58,385.28 L52.92,384.16 L54.26,383.16 L55.60,382.26 L56.94,381.45 L58.28,380.72 L59.61,380.05 L60.95,379.43 L62.29,378.86 L63.63,378.33 L64.97,377.85 L66.31,377.39 L67.65,376.97 L68.99,376.57 L70.33,376.20 L71.67,375.85 L73.00,375.52 L74.34,375.21 L75.68,374.91 L77.02,374.64 L78.36,374.37 L79.70,374.12 L81.04,373.89 L82.38,373.66 L83.72,373.45 L85.06,373.25 L86.39,373.05 L87.73,372.87 L89.07,372.69 L90.41,372.52 L91.75,372.37 L93.09,372.21 L94.43,372.07 L95.77,371.93 L97.11,371.79 L98.45,371.67 L99.78,371.54 L101.12,371.43 L102.46,371.32 L103.80,371.21 L105.14,371.11 L106.48,371.01 L107.82,370.91 L109.16,370.82 L110.50,370.73 L111.83,370.65 L113.17,370.57 L114.51,370.49 L115.85,370.42 L117.19,370.35 L118.53,370.28 L119.87,370.21 L121.21,370.15 L122.55,370.09 L123.89,370.03 L125.22,369.98 L126.56,369.92 L127.90,369.87 L129.24,369.82 L130.58,369.77 L131.92,369.72 L133.26,369.68 L134.60,369.64 L135.94,369.60 L137.28,369.56 L138.61,369.52 L139.95,369.48 L141.29,369.44 L142.63,369.41 L143.97,369.38 L145.31,369.34 L146.65,369.31 L147.99,369.28 L149.33,369.25 L150.67,369.23 L152.00,369.20 L153.34,369.17 L154.68,369.15 L156.02,369.12 L157.36,369.10 L158.70,369.08 L160.04,369.06 L161.38,369.04 L162.72,369.02 L164.05,369.00 L165.39,368.98 L166.73,368.96 L168.07,368.94 L169.41,368.92 L170.75,368.91 L172.09,368.89 L173.43,368.88 L174.77,368.86" fill="none" stroke="#1c1c1c" stroke-width="1.05" stroke-linejoin="round"/>
<rect x="29.5" y="352.1" width="145.8" height="149.1" fill="none" stroke="#7f7f7f" stroke-opacity="0.75" stroke-width="0.8"/>
<rect x="29.5" y="338.0" width="145.8" height="14.0" fill="#E0E0E0" stroke="#7f7f7f" stroke-width="0.8"/>
<text transform="translate(102.4,348.6) scale(0.93,1)" font-size="7.7" text-anchor="middle" fill="#1a1a1a">DS2 total cells</text>
</g>
<g>
<rect x="180.1" y="352.1" width="146.2" height="62.9" fill="#F6D5B8"/>
<rect x="180.1" y="415.0" width="146.2" height="38.1" fill="#BEF1D5"/>
<rect x="180.1" y="453.1" width="146.2" height="14.2" fill="#F7E0DF"/>
<rect x="180.1" y="467.3" width="146.2" height="28.7" fill="#F1A6CC"/>
<rect x="180.1" y="496.0" width="146.2" height="5.2" fill="#D4D2DC"/>
<path d="M180.61,492.93 L180.81,489.28 L181.02,486.11 L181.23,483.34 L181.43,480.90 L181.64,478.73 L181.85,476.78 L182.05,475.02 L182.26,473.42 L182.47,471.95 L182.67,470.60 L182.88,469.36 L183.09,468.20 L183.30,467.12 L183.50,466.10 L183.71,465.14 L183.92,464.24 L184.12,463.39 L184.33,462.57 L184.54,461.80 L184.74,461.05 L184.95,460.34 L185.16,459.66 L185.36,459.00 L185.57,458.37 L185.78,457.76 L185.98,457.17 L186.19,456.60 L186.40,456.04 L186.60,455.50 L186.81,454.98 L187.02,454.47 L187.22,453.98 L187.43,453.49 L187.64,453.02 L187.84,452.56 L188.05,452.11 L188.26,451.67 L188.47,451.24 L188.67,450.82 L188.88,450.41 L189.09,450.01 L189.29,449.61 L189.50,449.23 L189.71,448.85 L189.91,448.47 L190.12,448.11 L190.33,447.74 L190.53,447.39 L190.74,447.04 L190.95,446.70 L191.15,446.36 L191.36,446.03 L191.57,445.70 L191.77,445.38 L191.98,445.06 L192.19,444.75 L192.39,444.44 L192.60,444.14 L192.81,443.84 L193.26,443.20 L193.71,442.57 L194.17,441.96 L194.62,441.37 L195.07,440.79 L195.53,440.22 L195.98,439.67 L196.43,439.13 L196.89,438.60 L197.34,438.08 L197.79,437.57 L198.25,437.08 L198.70,436.59 L199.15,436.10 L199.61,435.63 L200.06,435.17 L200.51,434.71 L200.97,434.26 L201.42,433.81 L201.87,433.38 L202.33,432.94 L202.78,432.52 L203.23,432.10 L203.69,431.69 L204.14,431.28 L204.59,430.88 L205.05,430.48 L205.50,430.09 L205.95,429.70 L206.41,429.31 L206.86,428.93 L207.31,428.56 L207.77,428.19 L208.22,427.82 L208.67,427.46 L209.13,427.10 L209.58,426.75 L210.03,426.40 L210.49,426.05 L210.94,425.71 L211.39,425.37 L211.85,425.03 L212.30,424.70 L212.75,424.37 L213.21,424.04 L213.66,423.72 L214.11,423.40 L214.57,423.08 L215.02,422.77 L215.47,422.46 L215.93,422.15 L216.38,421.85 L216.83,421.54 L217.29,421.24 L217.74,420.95 L218.19,420.65 L218.65,420.36 L219.10,420.08 L219.55,419.79 L220.01,419.51 L220.46,419.23 L220.91,418.95 L221.37,418.67 L221.82,418.40 L222.27,418.13 L222.73,417.86 L223.18,417.60 L223.63,417.33 L224.08,417.07 L224.54,416.82 L224.99,416.56 L225.44,416.31 L225.90,416.05 L226.35,415.80 L226.80,415.56 L227.26,415.31 L227.71,415.07 L228.16,414.83 L228.62,414.59 L229.07,414.35 L229.52,414.12 L229.98,413.89 L230.43,413.66 L230.88,413.43 L231.34,413.20 L231.79,412.98 L232.24,412.75 L232.70,412.53 L233.15,412.31 L233.60,412.10 L234.06,411.88 L234.51,411.67 L234.96,411.46 L235.42,411.25 L235.87,411.04 L236.32,410.83 L236.78,410.63 L237.23,410.43 L237.68,410.23" fill="none" stroke="#a0a0a8" stroke-width="0.8" stroke-linejoin="round"/>
<rect x="180.1" y="352.1" width="146.2" height="149.1" fill="none" stroke="#b8b8b8" stroke-opacity="0.75" stroke-width="0.8"/>
<rect x="180.1" y="338.0" width="146.2" height="14.0" fill="#E0E0E0" stroke="#7f7f7f" stroke-width="0.8"/>
<text transform="translate(253.2,348.6) scale(0.93,1)" font-size="7.7" text-anchor="middle" fill="#1a1a1a">DS2 F420-</text>
</g>
<g>
<rect x="330.6" y="352.1" width="146.1" height="4.7" fill="#EE7600"/>
<rect x="330.6" y="356.8" width="146.1" height="59.3" fill="#EE9A49"/>
<rect x="330.6" y="416.1" width="146.1" height="17.7" fill="#FFC6C2"/>
<rect x="330.6" y="433.8" width="146.1" height="3.0" fill="#9ACD32"/>
<rect x="330.6" y="436.8" width="146.1" height="57.2" fill="#CDC9C9"/>
<rect x="330.6" y="494.0" width="146.1" height="7.2" fill="#7F7F7F"/>
<path d="M331.11,492.93 L331.31,489.64 L331.52,486.60 L331.73,483.80 L331.93,481.18 L332.14,478.75 L332.35,476.46 L332.55,474.30 L332.76,472.27 L332.97,470.33 L333.17,468.49 L333.38,466.74 L333.59,465.06 L333.80,463.45 L334.00,461.90 L334.21,460.41 L334.42,458.96 L334.62,457.57 L334.83,456.22 L335.04,454.91 L335.24,453.64 L335.45,452.41 L335.66,451.21 L335.86,450.04 L336.07,448.91 L336.28,447.80 L336.48,446.71 L336.69,445.66 L336.90,444.63 L337.10,443.62 L337.31,442.64 L337.52,441.67 L337.72,440.73 L337.93,439.81 L338.14,438.91 L338.34,438.03 L338.55,437.16 L338.76,436.32 L338.97,435.49 L339.17,434.67 L339.38,433.88 L339.59,433.10 L339.79,432.33 L340.00,431.58 L340.21,430.84 L340.41,430.12 L340.62,429.41 L340.83,428.72 L341.03,428.03 L341.24,427.36 L341.45,426.71 L341.65,426.06 L341.86,425.42 L342.07,424.80 L342.27,424.19 L342.48,423.59 L342.69,423.00 L342.89,422.41 L343.10,421.84 L343.31,421.28 L344.65,417.86 L345.99,414.79 L347.32,412.00 L348.66,409.47 L350.00,407.16 L351.34,405.05 L352.68,403.10 L354.02,401.31 L355.36,399.64 L356.70,398.10 L358.04,396.67 L359.38,395.33 L360.71,394.08 L362.05,392.90 L363.39,391.80 L364.73,390.77 L366.07,389.79 L367.41,388.87 L368.75,388.00 L370.09,387.17 L371.43,386.39 L372.77,385.65 L374.10,384.94 L375.44,384.27 L376.78,383.63 L378.12,383.02 L379.46,382.44 L380.80,381.89 L382.14,381.36 L383.48,380.85 L384.82,380.37 L386.16,379.90 L387.49,379.46 L388.83,379.03 L390.17,378.62 L391.51,378.23 L392.85,377.85 L394.19,377.49 L395.53,377.14 L396.87,376.81 L398.21,376.49 L399.55,376.18 L400.88,375.88 L402.22,375.59 L403.56,375.32 L404.90,375.05 L406.24,374.80 L407.58,374.55 L408.92,374.31 L410.26,374.09 L411.60,373.87 L412.93,373.65 L414.27,373.45 L415.61,373.25 L416.95,373.06 L418.29,372.88 L419.63,372.70 L420.97,372.53 L422.31,372.36 L423.65,372.20 L424.99,372.05 L426.32,371.90 L427.66,371.76 L429.00,371.62 L430.34,371.48 L431.68,371.35 L433.02,371.23 L434.36,371.11 L435.70,370.99 L437.04,370.88 L438.38,370.77 L439.71,370.67 L441.05,370.56 L442.39,370.47 L443.73,370.37 L445.07,370.28 L446.41,370.19 L447.75,370.11 L449.09,370.02 L450.43,369.94 L451.77,369.86 L453.10,369.79 L454.44,369.72 L455.78,369.65 L457.12,369.58 L458.46,369.51 L459.80,369.45 L461.14,369.39 L462.48,369.33 L463.82,369.27 L465.15,369.22 L466.49,369.16 L467.83,369.11 L469.17,369.06 L470.51,369.01 L471.85,368.97 L473.19,368.92 L474.53,368.88 L475.87,368.84" fill="none" stroke="#1c1c1c" stroke-width="1.05" stroke-linejoin="round"/>
<rect x="330.6" y="352.1" width="146.1" height="149.1" fill="none" stroke="#7f7f7f" stroke-opacity="0.75" stroke-width="0.8"/>
<rect x="330.6" y="338.0" width="146.1" height="14.0" fill="#E0E0E0" stroke="#7f7f7f" stroke-width="0.8"/>
<text transform="translate(403.6,348.6) scale(0.93,1)" font-size="7.7" text-anchor="middle" fill="#1a1a1a">DS2 F420+</text>
</g>
<g>
<rect x="481.7" y="352.1" width="146.0" height="8.8" fill="#EE7600"/>
<rect x="481.7" y="360.9" width="146.0" height="0.8" fill="#EE9A49"/>
<rect x="481.7" y="361.7" width="146.0" height="62.8" fill="#FFC6C2"/>
<rect x="481.7" y="424.5" width="146.0" height="1.8" fill="#FAA0B7"/>
<rect x="481.7" y="426.3" width="146.0" height="1.5" fill="#F768A1"/>
<rect x="481.7" y="427.8" width="146.0" height="2.1" fill="#EE1289"/>
<rect x="481.7" y="429.9" width="146.0" height="7.4" fill="#9ACD32"/>
<rect x="481.7" y="437.3" width="146.0" height="62.9" fill="#CDC9C9"/>
<rect x="481.7" y="500.2" width="146.0" height="1.0" fill="#7F7F7F"/>
<path d="M482.21,492.93 L482.41,489.24 L482.62,485.81 L482.83,482.61 L483.03,479.62 L483.24,476.82 L483.45,474.19 L483.65,471.71 L483.86,469.38 L484.07,467.18 L484.27,465.09 L484.48,463.12 L484.69,461.25 L484.90,459.47 L485.10,457.77 L485.31,456.16 L485.52,454.62 L485.72,453.14 L485.93,451.73 L486.14,450.38 L486.34,449.08 L486.55,447.83 L486.76,446.63 L486.96,445.48 L487.17,444.36 L487.38,443.29 L487.58,442.25 L487.79,441.25 L488.00,440.28 L488.20,439.34 L488.41,438.43 L488.62,437.55 L488.82,436.69 L489.03,435.86 L489.24,435.05 L489.44,434.26 L489.65,433.50 L489.86,432.75 L490.07,432.03 L490.27,431.32 L490.48,430.63 L490.69,429.96 L490.89,429.30 L491.10,428.66 L491.31,428.04 L491.51,427.42 L491.72,426.83 L491.93,426.24 L492.13,425.67 L492.34,425.11 L492.55,424.56 L492.75,424.02 L492.96,423.50 L493.17,422.98 L493.37,422.48 L493.58,421.98 L493.79,421.50 L493.99,421.02 L494.20,420.55 L494.41,420.10 L495.75,417.33 L497.09,414.86 L498.42,412.64 L499.76,410.64 L501.10,408.83 L502.44,407.18 L503.78,405.68 L505.12,404.31 L506.46,403.04 L507.80,401.88 L509.14,400.80 L510.48,399.81 L511.81,398.88 L513.15,398.02 L514.49,397.21 L515.83,396.45 L517.17,395.74 L518.51,395.07 L519.85,394.44 L521.19,393.84 L522.53,393.27 L523.87,392.73 L525.20,392.21 L526.54,391.72 L527.88,391.25 L529.22,390.80 L530.56,390.36 L531.90,389.95 L533.24,389.55 L534.58,389.16 L535.92,388.79 L537.26,388.42 L538.59,388.08 L539.93,387.74 L541.27,387.41 L542.61,387.09 L543.95,386.79 L545.29,386.49 L546.63,386.20 L547.97,385.91 L549.31,385.64 L550.65,385.37 L551.98,385.11 L553.32,384.86 L554.66,384.61 L556.00,384.37 L557.34,384.14 L558.68,383.91 L560.02,383.69 L561.36,383.47 L562.70,383.26 L564.03,383.05 L565.37,382.85 L566.71,382.65 L568.05,382.45 L569.39,382.26 L570.73,382.08 L572.07,381.90 L573.41,381.72 L574.75,381.55 L576.09,381.38 L577.42,381.22 L578.76,381.06 L580.10,380.90 L581.44,380.75 L582.78,380.59 L584.12,380.45 L585.46,380.30 L586.80,380.16 L588.14,380.02 L589.48,379.89 L590.81,379.76 L592.15,379.63 L593.49,379.50 L594.83,379.38 L596.17,379.26 L597.51,379.14 L598.85,379.02 L600.19,378.91 L601.53,378.79 L602.87,378.69 L604.20,378.58 L605.54,378.47 L606.88,378.37 L608.22,378.27 L609.56,378.17 L610.90,378.08 L612.24,377.98 L613.58,377.89 L614.92,377.80 L616.25,377.71 L617.59,377.62 L618.93,377.54 L620.27,377.45 L621.61,377.37 L622.95,377.29 L624.29,377.21 L625.63,377.14 L626.97,377.06" fill="none" stroke="#1c1c1c" stroke-width="1.05" stroke-linejoin="round"/>
<rect x="481.7" y="352.1" width="146.0" height="149.1" fill="none" stroke="#7f7f7f" stroke-opacity="0.75" stroke-width="0.8"/>
<rect x="481.7" y="338.0" width="146.0" height="14.0" fill="#E0E0E0" stroke="#7f7f7f" stroke-width="0.8"/>
<text transform="translate(553.8,348.6) scale(0.93,1)" font-size="7.7" text-anchor="middle" fill="#1a1a1a">DS2 F420+S1</text>
</g>
<g>
<rect x="632.4" y="352.1" width="145.7" height="5.6" fill="#EE7600"/>
<rect x="632.4" y="357.7" width="145.7" height="3.3" fill="#EE9A49"/>
<rect x="632.4" y="361.0" width="145.7" height="44.8" fill="#FFC6C2"/>
<rect x="632.4" y="405.8" width="145.7" height="24.5" fill="#FAA0B7"/>
<rect x="632.4" y="430.3" width="145.7" height="2.9" fill="#F768A1"/>
<rect x="632.4" y="433.2" width="145.7" height="24.7" fill="#EE1289"/>
<rect x="632.4" y="457.9" width="145.7" height="1.7" fill="#9ACD32"/>
<rect x="632.4" y="459.6" width="145.7" height="4.5" fill="#FFFF00"/>
<rect x="632.4" y="464.1" width="145.7" height="33.2" fill="#CDC9C9"/>
<rect x="632.4" y="497.3" width="145.7" height="3.9" fill="#7F7F7F"/>
<path d="M632.91,492.93 L633.11,489.43 L633.32,486.05 L633.53,482.77 L633.73,479.60 L633.94,476.54 L634.15,473.57 L634.35,470.70 L634.56,467.92 L634.77,465.23 L634.97,462.62 L635.18,460.10 L635.39,457.66 L635.60,455.29 L635.80,453.00 L636.01,450.78 L636.22,448.62 L636.42,446.54 L636.63,444.51 L636.84,442.55 L637.04,440.65 L637.25,438.81 L637.46,437.02 L637.66,435.28 L637.87,433.60 L638.08,431.96 L638.28,430.38 L638.49,428.84 L638.70,427.35 L638.90,425.90 L639.11,424.49 L639.32,423.12 L639.52,421.79 L639.73,420.50 L639.94,419.24 L640.14,418.02 L640.35,416.84 L640.56,415.69 L640.77,414.57 L640.97,413.48 L641.18,412.42 L641.39,411.38 L641.59,410.38 L641.80,409.40 L642.01,408.45 L642.21,407.53 L642.42,406.63 L642.63,405.75 L642.83,404.89 L643.04,404.06 L643.25,403.25 L643.45,402.46 L643.66,401.69 L643.87,400.94 L644.07,400.21 L644.28,399.49 L644.49,398.80 L644.69,398.12 L644.90,397.45 L645.11,396.81 L646.45,392.98 L647.79,389.68 L649.12,386.83 L650.46,384.34 L651.80,382.16 L653.14,380.24 L654.48,378.54 L655.82,377.02 L657.16,375.67 L658.50,374.45 L659.84,373.35 L661.18,372.35 L662.51,371.45 L663.85,370.62 L665.19,369.87 L666.53,369.19 L667.87,368.56 L669.21,367.98 L670.55,367.45 L671.89,366.96 L673.23,366.51 L674.57,366.09 L675.90,365.71 L677.24,365.35 L678.58,365.02 L679.92,364.72 L681.26,364.43 L682.60,364.17 L683.94,363.92 L685.28,363.70 L686.62,363.49 L687.96,363.29 L689.29,363.11 L690.63,362.94 L691.97,362.78 L693.31,362.63 L694.65,362.49 L695.99,362.36 L697.33,362.24 L698.67,362.13 L700.01,362.03 L701.35,361.93 L702.68,361.84 L704.02,361.75 L705.36,361.67 L706.70,361.60 L708.04,361.53 L709.38,361.47 L710.72,361.40 L712.06,361.35 L713.40,361.29 L714.73,361.25 L716.07,361.20 L717.41,361.16 L718.75,361.11 L720.09,361.08 L721.43,361.04 L722.77,361.01 L724.11,360.98 L725.45,360.95 L726.79,360.92 L728.12,360.89 L729.46,360.87 L730.80,360.85 L732.14,360.83 L733.48,360.81 L734.82,360.79 L736.16,360.77 L737.50,360.76 L738.84,360.74 L740.18,360.73 L741.51,360.71 L742.85,360.70 L744.19,360.69 L745.53,360.68 L746.87,360.67 L748.21,360.66 L749.55,360.65 L750.89,360.64 L752.23,360.63 L753.57,360.63 L754.90,360.62 L756.24,360.61 L757.58,360.61 L758.92,360.60 L760.26,360.59 L761.60,360.59 L762.94,360.59 L764.28,360.58 L765.62,360.58 L766.95,360.57 L768.29,360.57 L769.63,360.57 L770.97,360.56 L772.31,360.56 L773.65,360.56 L774.99,360.55 L776.33,360.55 L777.67,360.55" fill="none" stroke="#1c1c1c" stroke-width="1.05" stroke-linejoin="round"/>
<rect x="632.4" y="352.1" width="145.7" height="149.1" fill="none" stroke="#7f7f7f" stroke-opacity="0.75" stroke-width="0.8"/>
<rect x="632.4" y="338.0" width="145.7" height="14.0" fill="#E0E0E0" stroke="#7f7f7f" stroke-width="0.8"/>
<text transform="translate(704.4,348.6) scale(0.93,1)" font-size="7.7" text-anchor="middle" fill="#1a1a1a">DS2 F420+S2</text>
</g>
<line x1="26.6" x2="29.5" y1="164.3" y2="164.3" stroke="#333" stroke-width="0.8"/>
<text transform="translate(25.3,167.5) scale(0.93,1)" font-size="9.5" text-anchor="end" fill="#111">0</text>
<line x1="26.6" x2="29.5" y1="123.0" y2="123.0" stroke="#333" stroke-width="0.8"/>
<text transform="translate(25.3,126.2) scale(0.93,1)" font-size="9.5" text-anchor="end" fill="#111">5</text>
<line x1="26.6" x2="29.5" y1="81.6" y2="81.6" stroke="#333" stroke-width="0.8"/>
<text transform="translate(25.3,84.8) scale(0.93,1)" font-size="9.5" text-anchor="end" fill="#111">10</text>
<line x1="26.6" x2="29.5" y1="40.3" y2="40.3" stroke="#333" stroke-width="0.8"/>
<text transform="translate(25.3,43.5) scale(0.93,1)" font-size="9.5" text-anchor="end" fill="#111">15</text>
<line x1="26.6" x2="29.5" y1="332.8" y2="332.8" stroke="#333" stroke-width="0.8"/>
<text transform="translate(25.3,336.0) scale(0.93,1)" font-size="9.5" text-anchor="end" fill="#111">0</text>
<line x1="26.6" x2="29.5" y1="291.5" y2="291.5" stroke="#333" stroke-width="0.8"/>
<text transform="translate(25.3,294.7) scale(0.93,1)" font-size="9.5" text-anchor="end" fill="#111">5</text>
<line x1="26.6" x2="29.5" y1="250.1" y2="250.1" stroke="#333" stroke-width="0.8"/>
<text transform="translate(25.3,253.3) scale(0.93,1)" font-size="9.5" text-anchor="end" fill="#111">10</text>
<line x1="26.6" x2="29.5" y1="208.8" y2="208.8" stroke="#333" stroke-width="0.8"/>
<text transform="translate(25.3,211.9) scale(0.93,1)" font-size="9.5" text-anchor="end" fill="#111">15</text>
<line x1="26.6" x2="29.5" y1="501.2" y2="501.2" stroke="#333" stroke-width="0.8"/>
<text transform="translate(25.3,504.4) scale(0.93,1)" font-size="9.5" text-anchor="end" fill="#111">0</text>
<line x1="26.6" x2="29.5" y1="459.9" y2="459.9" stroke="#333" stroke-width="0.8"/>
<text transform="translate(25.3,463.1) scale(0.93,1)" font-size="9.5" text-anchor="end" fill="#111">5</text>
<line x1="26.6" x2="29.5" y1="418.5" y2="418.5" stroke="#333" stroke-width="0.8"/>
<text transform="translate(25.3,421.7) scale(0.93,1)" font-size="9.5" text-anchor="end" fill="#111">10</text>
<line x1="26.6" x2="29.5" y1="377.1" y2="377.1" stroke="#333" stroke-width="0.8"/>
<text transform="translate(25.3,380.3) scale(0.93,1)" font-size="9.5" text-anchor="end" fill="#111">15</text>
<line x1="81.5" x2="81.5" y1="501.5" y2="504.2" stroke="#333" stroke-width="0.8"/>
<text transform="translate(81.5,513) scale(0.93,1)" font-size="9.5" text-anchor="middle" fill="#111">250</text>
<line x1="174.8" x2="174.8" y1="501.5" y2="504.2" stroke="#333" stroke-width="0.8"/>
<text transform="translate(174.3,513) scale(0.93,1)" font-size="9.5" text-anchor="middle" fill="#111">701</text>
<line x1="206.2" x2="206.2" y1="501.5" y2="504.2" stroke="#333" stroke-width="0.8"/>
<text transform="translate(206.2,513) scale(0.93,1)" font-size="9.5" text-anchor="middle" fill="#111">125</text>
<line x1="237.7" x2="237.7" y1="501.5" y2="504.2" stroke="#333" stroke-width="0.8"/>
<text transform="translate(237.7,513) scale(0.93,1)" font-size="9.5" text-anchor="middle" fill="#111">277</text>
<line x1="382.6" x2="382.6" y1="501.5" y2="504.2" stroke="#333" stroke-width="0.8"/>
<text transform="translate(382.6,513) scale(0.93,1)" font-size="9.5" text-anchor="middle" fill="#111">250</text>
<line x1="475.9" x2="475.9" y1="501.5" y2="504.2" stroke="#333" stroke-width="0.8"/>
<text transform="translate(475.4,513) scale(0.93,1)" font-size="9.5" text-anchor="middle" fill="#111">701</text>
<line x1="533.7" x2="533.7" y1="501.5" y2="504.2" stroke="#333" stroke-width="0.8"/>
<text transform="translate(533.7,513) scale(0.93,1)" font-size="9.5" text-anchor="middle" fill="#111">250</text>
<line x1="627.0" x2="627.0" y1="501.5" y2="504.2" stroke="#333" stroke-width="0.8"/>
<text transform="translate(626.5,513) scale(0.93,1)" font-size="9.5" text-anchor="middle" fill="#111">701</text>
<line x1="684.4" x2="684.4" y1="501.5" y2="504.2" stroke="#333" stroke-width="0.8"/>
<text transform="translate(684.4,513) scale(0.93,1)" font-size="9.5" text-anchor="middle" fill="#111">250</text>
<line x1="777.7" x2="777.7" y1="501.5" y2="504.2" stroke="#333" stroke-width="0.8"/>
<text transform="translate(777.2,513) scale(0.93,1)" font-size="9.5" text-anchor="middle" fill="#111">701</text>
<text transform="translate(404,527.9) scale(0.955,1)" font-size="13.4" text-anchor="middle" fill="#000">Read numbers</text>
<text transform="translate(11.1,257.9) rotate(-90) scale(0.955,1)" font-size="13.3" text-anchor="middle" fill="#000">OTU numbers</text>
<rect x="30.2" y="539.4" width="13.1" height="13.1" fill="#EE7600"/>
<text transform="translate(45.0,549.3) scale(0.915,1)" font-size="9.95" font-style="italic" fill="#15151f">Archeon 91B</text>
<rect x="30.2" y="553.8" width="13.1" height="13.1" fill="#EE9A49"/>
<text transform="translate(45.0,563.7) scale(0.915,1)" font-size="9.95" font-style="italic" fill="#15151f">Archeon 94D</text>
<rect x="30.2" y="568.2" width="13.1" height="13.1" fill="#54EE94"/>
<text transform="translate(45.0,578.1) scale(0.915,1)" font-size="9.95" font-style="italic" fill="#15151f">Methanomassiliicoccus luminyensis</text>
<rect x="191.3" y="539.4" width="13.1" height="13.1" fill="#FFC6C2"/>
<text transform="translate(207.0,549.3) scale(0.915,1)" font-size="9.95" font-style="italic" fill="#15151f">Methanospirillum</text>
<rect x="191.3" y="553.8" width="13.1" height="13.1" fill="#FAA0B7"/>
<text transform="translate(207.0,563.7) scale(0.915,1)" font-size="9.95" font-style="italic" fill="#15151f">Methanoculleus bourgensis</text>
<rect x="191.3" y="568.2" width="13.1" height="13.1" fill="#F768A1"/>
<text transform="translate(207.0,578.1) scale(0.915,1)" font-size="9.95" font-style="italic" fill="#15151f">Methanoculleus chikugoensis</text>
<rect x="328.3" y="539.4" width="13.1" height="13.1" fill="#EE1289"/>
<text transform="translate(343.7,549.3) scale(0.915,1)" font-size="9.95" font-style="italic" fill="#15151f">Other Methanomicrobiales</text>
<rect x="328.3" y="553.8" width="13.1" height="13.1" fill="#9ACD32"/>
<text transform="translate(343.7,563.7) scale(0.915,1)" font-size="9.95" font-style="italic" fill="#15151f">Methanobacterium kanagiense</text>
<rect x="328.3" y="568.2" width="13.1" height="13.1" fill="#FFFF00"/>
<text transform="translate(343.7,578.1) scale(0.915,1)" font-size="9.95" font-style="italic" fill="#15151f">Other Methanobacterium</text>
<rect x="470.6" y="539.4" width="13.1" height="13.1" fill="#00BFFF"/>
<text transform="translate(486.1,549.3) scale(0.915,1)" font-size="9.95" font-style="italic" fill="#15151f">Methanosarcina mazei</text>
<rect x="470.6" y="553.8" width="13.1" height="13.1" fill="#4169E1"/>
<text transform="translate(486.1,563.7) scale(0.915,1)" font-size="9.95" font-style="italic" fill="#15151f">Methanosarcina thermophila</text>
<rect x="470.6" y="568.2" width="13.1" height="13.1" fill="#CDC9C9"/>
<text transform="translate(486.1,578.1) scale(0.915,1)" font-size="9.95" font-style="italic" fill="#15151f">Unknown Sequences &gt; 1 % abundance</text>
<rect x="648.0" y="539.4" width="13.1" height="13.1" fill="#7F7F7F"/>
<text transform="translate(664.0,549.3) scale(0.915,1)" font-size="9.95" font-style="italic" fill="#15151f">Sequences &lt; 1 % abundance</text>
</svg>
</body></html>
